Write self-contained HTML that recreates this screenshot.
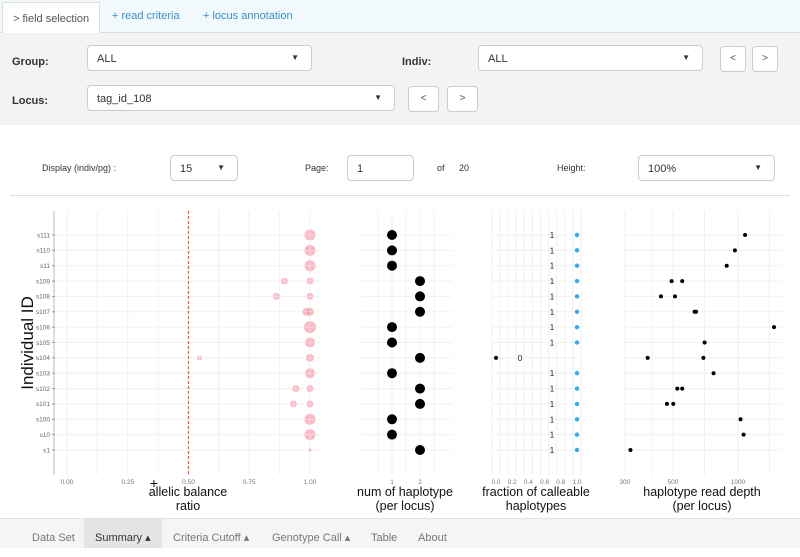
<!DOCTYPE html>
<html><head><meta charset="utf-8">
<style>
body{margin:0;width:800px;height:547px;overflow:hidden;background:#fff;font-family:"Liberation Sans",sans-serif;position:relative}
.abs{position:absolute}
.tabs{left:0;top:0;width:800px;height:32px;background:#f1f9fc;border-bottom:1px solid #ddd}
.tab{top:0;height:32px;line-height:32px;font-size:11px;color:#3a8fc7}
.tab.active{background:#fff;border:1px solid #ddd;border-bottom:none;color:#555;padding:0 10px;left:2px;top:2px;height:31px}
.panel{left:0;top:33px;width:800px;height:92px;background:#f3f3f3}
.lbl{font-size:11px;font-weight:bold;color:#333}
.sel{background:#fff;border:1px solid #ccc;border-radius:4px;font-size:11px;color:#333;box-sizing:border-box;padding-left:9px;line-height:26px}
.sel .car{position:absolute;right:12px;top:0;font-size:8px;line-height:24px}
.btn{background:#fff;border:1px solid #ccc;border-radius:4px;box-sizing:border-box;font-size:10px;color:#555;text-align:center;line-height:24px}
.sm{font-size:9px;color:#333}
.bnav{left:0;top:518px;width:800px;height:29px;background:#f5f5f5;border-top:1px solid #e3e3e3}
.ni{top:0;height:29px;line-height:38px;font-size:11px;color:#777}
</style></head><body>
<div class="abs tabs">
 <div class="abs tab active">&gt; field selection</div>
 <div class="abs tab" style="left:112px">+ read criteria</div>
 <div class="abs tab" style="left:203px">+ locus annotation</div>
</div>
<div class="abs panel"></div>
<div class="abs lbl" style="left:12px;top:56px">Group:</div>
<div class="abs sel" style="left:87px;top:45px;width:225px;height:26px">ALL<span class="car">▼</span></div>
<div class="abs lbl" style="left:402px;top:56px">Indiv:</div>
<div class="abs sel" style="left:478px;top:45px;width:225px;height:26px">ALL<span class="car">▼</span></div>
<div class="abs btn" style="left:720px;top:46px;width:26px;height:26px">&lt;</div>
<div class="abs btn" style="left:752px;top:46px;width:26px;height:26px">&gt;</div>
<div class="abs lbl" style="left:12px;top:95px">Locus:</div>
<div class="abs sel" style="left:87px;top:85px;width:308px;height:26px">tag_id_108<span class="car">▼</span></div>
<div class="abs btn" style="left:408px;top:86px;width:31px;height:26px">&lt;</div>
<div class="abs btn" style="left:447px;top:86px;width:31px;height:26px">&gt;</div>

<div class="abs sm" style="left:42px;top:163px">Display (indiv/pg) :</div>
<div class="abs sel" style="left:170px;top:155px;width:68px;height:26px">15<span class="car">▼</span></div>
<div class="abs sm" style="left:305px;top:163px">Page:</div>
<div class="abs sel" style="left:347px;top:155px;width:67px;height:26px">1</div>
<div class="abs sm" style="left:437px;top:163px">of</div>
<div class="abs sm" style="left:459px;top:163px">20</div>
<div class="abs sm" style="left:557px;top:163px">Height:</div>
<div class="abs sel" style="left:638px;top:155px;width:137px;height:26px">100%<span class="car">▼</span></div>
<div class="abs" style="left:10px;top:195px;width:780px;height:1px;background:#ddd"></div>

<svg class="abs" style="left:0;top:0" width="800" height="547" id="chart"></svg>

<div class="abs bnav">
 <div class="abs" style="left:84px;top:0;width:78px;height:29px;background:#e4e4e4"></div>
 <div class="abs ni" style="left:32px">Data Set</div>
 <div class="abs ni" style="left:95px;color:#333">Summary ▴</div>
 <div class="abs ni" style="left:173px">Criteria Cutoff ▴</div>
 <div class="abs ni" style="left:272px">Genotype Call ▴</div>
 <div class="abs ni" style="left:371px">Table</div>
 <div class="abs ni" style="left:418px">About</div>
</div>

<script>
const ids = ["s111","s110","s11","s109","s108","s107","s106","s105","s104","s103","s102","s101","s100","s10","s1"];
const abRatio = [[1],[1],[1],[0.895,1],[0.862,1],[0.985,1],[1],[1],[0.545,1],[1],[0.942,1],[0.932,1],[1],[1],[1]];
const abSize = [[5.5],[5.5],[5.5],[3.5,3.5],[3.5,3.5],[4,4],[6],[5],[2.5,4],[5],[3.5,3.5],[3.5,3.5],[5.5],[5.5],[1.5]];
const nHap = [1,1,1,2,2,2,1,1,2,1,2,2,1,1,2];
const fracCall = [1,1,1,1,1,1,1,1,0,1,1,1,1,1,1];
const readDepth = [[1079],[968],[887],[493,552],[440,511],[630,640],[1469],[701],[382,692],[771],[524,552],[469,502],[1028],[1062],[318]];
const abTicks = ["0.00","0.25","0.50","0.75","1.00"];
const hapTicks = ["1","2"];
const fracTicks = ["0.0","0.2","0.4","0.6","0.8","1.0"];
const depthTicks = ["300","500","1000"];

const svg = document.getElementById('chart');
const NS = 'http://www.w3.org/2000/svg';
function mk(tag, attrs, name, parent){
  const e = document.createElementNS(NS, tag);
  for (const k in attrs) e.setAttribute(k, attrs[k]);
  
  
  (parent||svg).appendChild(e); return e;
}
const yRow = i => 235 + i*(450-235)/(ids.length-1);
const xAB = v => 67 + v*(310-67);
const xHap = v => 392 + (v-1)*28;
const xFrac = v => 496 + v*81;
const xDep = v => 625 + (Math.log10(v)-Math.log10(300))*216;
const G = '#f0f0f0';

function hgrid(x0,x1){ ids.forEach((id,i)=>mk('line',{x1:x0,x2:x1,y1:yRow(i),y2:yRow(i),stroke:G,'stroke-width':1},'row-gridline')); }
function vgrid(x,w){ mk('line',{x1:x,x2:x,y1:211,y2:475,stroke:G,'stroke-width':w||1},'col-gridline'); }
function tick(x,txt,name){ const t=mk('text',{x:x,y:484,'font-size':6.5,fill:'#777','text-anchor':'middle'},name); t.textContent=txt; }
function title(x,lines,name){ lines.forEach((l,k)=>{const t=mk('text',{x:x,y:496+k*14,'font-size':12.5,fill:'#111','text-anchor':'middle'},name); t.textContent=l;}); }

// Panel 1
for(let v=0; v<=1.0001; v+=0.125) vgrid(xAB(v), 1);
hgrid(54,322);
mk('line',{x1:54,x2:54,y1:211,y2:475,stroke:'#bbb'},'y-axis-line');
ids.forEach((id,i)=>{
  mk('line',{x1:52,x2:55,y1:yRow(i),y2:yRow(i),stroke:'#999'},'y-tick');
  const t=mk('text',{x:50,y:yRow(i)+2.3,'font-size':6.5,fill:'#666','text-anchor':'end'},'y-tick-label'); t.textContent=id;
});
abTicks.forEach(s=>tick(xAB(parseFloat(s)),s,'ab-x-tick-label'));
mk('line',{x1:xAB(0.5),x2:xAB(0.5),y1:211,y2:475,stroke:'#f0602f','stroke-width':1.2,'stroke-dasharray':'3,2'},'balance-threshold-line');
abRatio.forEach((arr,i)=>arr.forEach((v,j)=>{
  const r=abSize[i][j], cx=xAB(v), cy=yRow(i);
  mk('circle',{cx:cx,cy:cy,r:r,fill:'rgba(245,130,150,0.55)'},'ab-point');
  if(r>2){mk('line',{x1:cx-r,x2:cx+r,y1:cy,y2:cy,stroke:'#fff','stroke-width':0.6,opacity:0.7},'ab-point-cross');
  mk('line',{x1:cx,x2:cx,y1:cy-r,y2:cy+r,stroke:'#fff','stroke-width':0.6,opacity:0.7},'ab-point-cross');}
}));
title(188,['allelic balance','ratio'],'ab-x-title');
const yt=mk('text',{x:0,y:0,'font-size':17,fill:'#111','text-anchor':'middle',transform:'translate(33,343) rotate(-90)'},'y-axis-title'); yt.textContent='Individual ID';
mk('text',{x:154,y:488,'font-size':14,fill:'#111','text-anchor':'middle'},'cursor').textContent='+';

// Panel 2
[0.5,1,1.5,2,2.5].forEach(v=>vgrid(xHap(v)));
hgrid(361,452);
hapTicks.forEach(s=>tick(xHap(+s),s,'hap-x-tick-label'));
nHap.forEach((v,i)=>mk('circle',{cx:xHap(v),cy:yRow(i),r:5,fill:'#000'},'hap-point'));
title(405,['num of haplotype','(per locus)'],'hap-x-title');

// Panel 3
for(let v=-0.05; v<=1.05; v+=0.1) vgrid(xFrac(v));
hgrid(492,581);
fracTicks.forEach(s=>tick(xFrac(parseFloat(s)),s,'frac-x-tick-label'));
fracCall.forEach((v,i)=>{
  mk('circle',{cx:xFrac(v),cy:yRow(i),r:v===1?2.2:2,fill:v===1?'#3aa8ec':'#000'},'frac-point');
  const t=mk('text',{x:v===1?552:520,y:yRow(i)+3,'font-size':8,fill:'#222','text-anchor':'middle'},'frac-value-label'); t.textContent=String(v);
});
title(536,['fraction of calleable','haplotypes'],'frac-x-title');

// Panel 4
[300,400,500,700,1000,1400].forEach(v=>vgrid(xDep(v)));
hgrid(624,782);
depthTicks.forEach(s=>tick(xDep(+s),s,'depth-x-tick-label'));
readDepth.forEach((arr,i)=>arr.forEach(v=>mk('circle',{cx:xDep(v),cy:yRow(i),r:2,fill:'#000'},'depth-point')));
title(702,['haplotype read depth','(per locus)'],'depth-x-title');
</script>
</body></html>
